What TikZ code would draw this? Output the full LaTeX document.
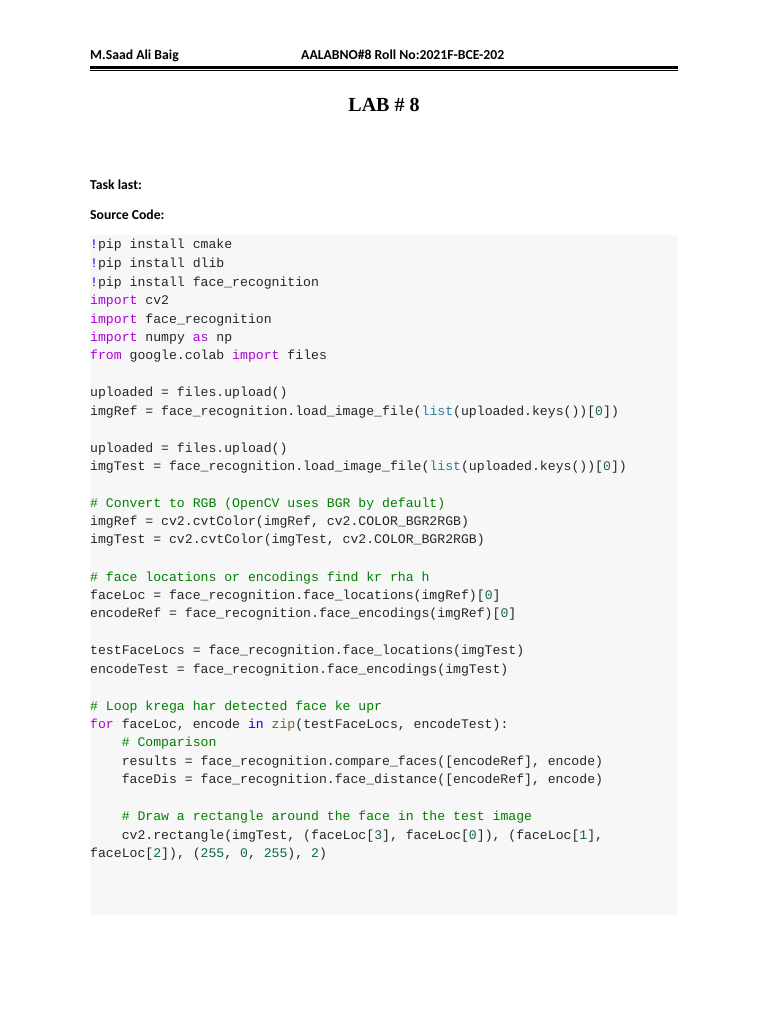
\documentclass[tikz,border=0pt]{standalone}
\usepackage{fontspec}
\setmainfont{Liberation Serif}
\newfontfamily\carlitofont{Carlito}
\setmonofont{Liberation Mono}
\definecolor{kwc}{HTML}{AF00DB}
\definecolor{blc}{HTML}{0000FF}
\definecolor{bic}{HTML}{267F99}
\definecolor{nmc}{HTML}{116644}
\definecolor{cmc}{HTML}{008000}
\definecolor{fnc}{HTML}{795E26}
\definecolor{bgc}{HTML}{F7F7F7}
\newcommand\kw[1]{\textcolor{kwc}{#1}}
\newcommand\bl[1]{\textcolor{blc}{#1}}
\newcommand\bi[1]{\textcolor{bic}{#1}}
\newcommand\nm[1]{\textcolor{nmc}{#1}}
\newcommand\cm[1]{\textcolor{cmc}{#1}}
\newcommand\fnn[1]{\textcolor{fnc}{#1}}
\begin{document}
\begin{tikzpicture}[x=1pt,y=-1pt,
  code/.style={anchor=base west,inner sep=0pt,font=\ttfamily\fontsize{13.15}{16}\selectfont,text=black!85},
  hdr/.style={anchor=base west,inner sep=0pt,font=\carlitofont\bfseries\fontsize{13.7}{15}\selectfont}]
\useasboundingbox (0,0) rectangle (768,1024);
\fill[white] (0,0) rectangle (768,1024);
\node[hdr] (h1) at (90,60) {M.Saad Ali Baig};
\node[hdr] (h2) at (301,60) {AALABNO\#8 Roll No:2021F-BCE-202};
\fill (90,66) rectangle (678,69.5);
\fill (90,70.5) rectangle (678,71.5);
\node[anchor=base,inner sep=0pt,font=\bfseries\fontsize{20}{22}\selectfont] (t) at (384,112) {LAB \# 8};
\node[hdr] (tl) at (90,190) {Task last:};
\node[hdr] (sc) at (90,220) {Source Code:};
\fill[bgc] (90,235) rectangle (678,915);
\node[code] (l1) at (90,248) {\bl{!}pip install cmake};
\node[code] (l2) at (90,267) {\bl{!}pip install dlib};
\node[code] (l3) at (90,286) {\bl{!}pip install face\_recognition};
\node[code] (l4) at (90,304) {\kw{import} cv2};
\node[code] (l5) at (90,323) {\kw{import} face\_recognition};
\node[code] (l6) at (90,341) {\kw{import} numpy \kw{as} np};
\node[code] (l7) at (90,359) {\kw{from} google.colab \kw{import} files};
\node[code] (l8) at (90,396) {uploaded = files.upload()};
\node[code] (l9) at (90,415) {imgRef = face\_recognition.load\_image\_file(\bi{list}(uploaded.keys())[\nm{0}])};
\node[code] (l10) at (90,452) {uploaded = files.upload()};
\node[code] (l11) at (90,470) {imgTest = face\_recognition.load\_image\_file(\bi{list}(uploaded.keys())[\nm{0}])};
\node[code] (l12) at (90,507) {\cm{\# Convert to RGB (OpenCV uses BGR by default)}};
\node[code] (l13) at (90,525) {imgRef = cv2.cvtColor(imgRef, cv2.COLOR\_BGR2RGB)};
\node[code] (l14) at (90,543) {imgTest = cv2.cvtColor(imgTest, cv2.COLOR\_BGR2RGB)};
\node[code] (l15) at (90,581) {\cm{\# face locations or encodings find kr rha h}};
\node[code] (l16) at (90,599) {faceLoc = face\_recognition.face\_locations(imgRef)[\nm{0}]};
\node[code] (l17) at (90,617) {encodeRef = face\_recognition.face\_encodings(imgRef)[\nm{0}]};
\node[code] (l18) at (90,654) {testFaceLocs = face\_recognition.face\_locations(imgTest)};
\node[code] (l19) at (90,673) {encodeTest = face\_recognition.face\_encodings(imgTest)};
\node[code] (l20) at (90,710) {\cm{\# Loop krega har detected face ke upr}};
\node[code] (l21) at (90,728) {\kw{for} faceLoc, encode \bl{in} \fnn{zip}(testFaceLocs, encodeTest):};
\node[code] (l22) at (90,746) {\phantom{xxxx}\cm{\# Comparison}};
\node[code] (l23) at (90,765) {\phantom{xxxx}results = face\_recognition.compare\_faces([encodeRef], encode)};
\node[code] (l24) at (90,783) {\phantom{xxxx}faceDis = face\_recognition.face\_distance([encodeRef], encode)};
\node[code] (l25) at (90,820) {\phantom{xxxx}\cm{\# Draw a rectangle around the face in the test image}};
\node[code] (l26) at (90,839) {\phantom{xxxx}cv2.rectangle(imgTest, (faceLoc[\nm{3}], faceLoc[\nm{0}]), (faceLoc[\nm{1}],};
\node[code] (l27) at (90,857) {faceLoc[\nm{2}]), (\nm{255}, \nm{0}, \nm{255}), \nm{2})};
\end{tikzpicture}
\end{document}
